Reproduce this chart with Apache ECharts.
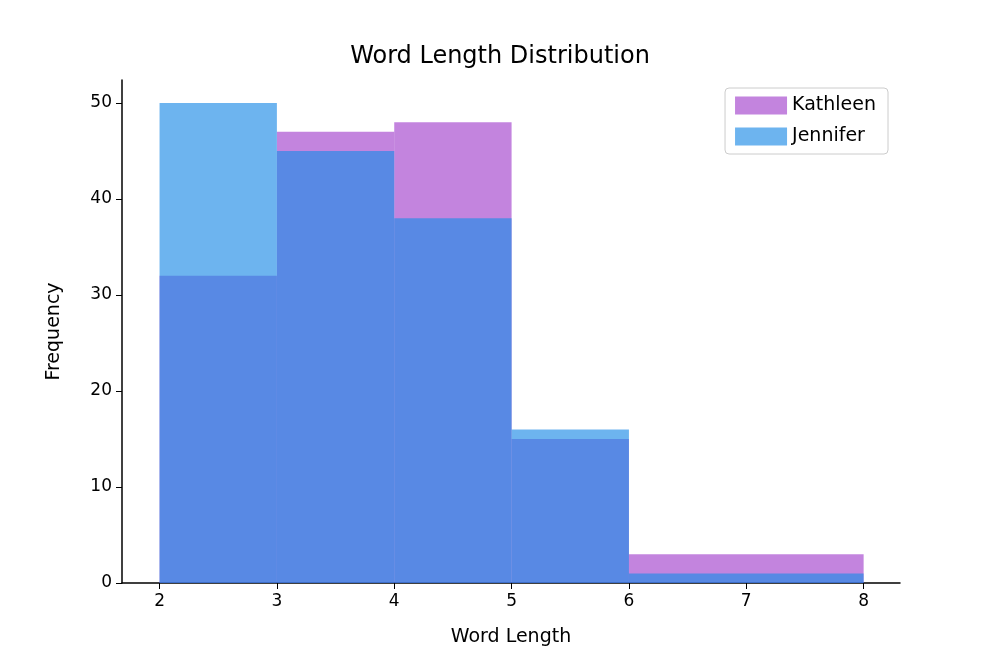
<!DOCTYPE html>
<html><head><meta charset="utf-8">
<script src="https://cdn.jsdelivr.net/npm/echarts@6/dist/echarts.min.js"></script>
<style>html,body{margin:0;padding:0;background:#fff}#c{width:1000px;height:667px}</style>
</head><body><div id="c"></div>
<script>
const binEdges = [2, 3, 4, 5, 6, 8];
const kathleen = [32, 47, 48, 15, 3];
const jennifer = [50, 45, 38, 16, 1];
const xTicks = [2, 3, 4, 5, 6, 7, 8];
const yTicks = [0, 10, 20, 30, 40, 50];

function mk(vals){ return vals.map((v,i)=>[binEdges[i], binEdges[i+1], v]); }
function render(params, api){
  const p0 = api.coord([api.value(0), 0]);
  const p1 = api.coord([api.value(1), api.value(2)]);
  return {type:'rect', shape:{x:p0[0], y:p1[1], width:p1[0]-p0[0], height:p0[1]-p1[1]},
    style:{fill:api.visual('color')}};
}
const font = 'DejaVu Sans';
const chart = echarts.init(document.getElementById('c'));
chart.setOption({
  animation:false,
  textStyle:{fontFamily:font},
  title:{text:'Word Length Distribution', left:'center', top:40, textStyle:{fontFamily:font, fontSize:24, fontWeight:'normal', color:'#000'}},
  legend:{right:112, top:88, orient:'vertical', icon:'rect', itemWidth:52, itemHeight:18, itemGap:12,
    borderColor:'#ccc', borderWidth:1, borderRadius:4, padding:[8,12,8,10],
    textStyle:{fontFamily:font, fontSize:19, color:'#000'}, data:['Kathleen','Jennifer']},
  grid:{left:122, right:100, top:80, bottom:84},
  xAxis:{type:'value', min:1.68, max:8.31, name:'Word Length', nameLocation:'middle', nameGap:45,
    nameTextStyle:{fontFamily:font, fontSize:19, color:'#000'},
    axisLine:{lineStyle:{color:'#000', width:1.5}}, splitLine:{show:false},
    axisTick:{customValues:xTicks, length:6, lineStyle:{color:'#000'}},
    axisLabel:{customValues:xTicks, fontFamily:font, fontSize:17, color:'#000', margin:10}},
  yAxis:{type:'value', min:0, max:52.4, name:'Frequency', nameLocation:'middle', nameGap:58, nameRotate:90,
    nameTextStyle:{fontFamily:font, fontSize:19, color:'#000'},
    axisLine:{show:true, lineStyle:{color:'#000', width:1.5}}, splitLine:{show:false},
    axisTick:{show:true, customValues:yTicks, length:6, lineStyle:{color:'#000'}},
    axisLabel:{customValues:yTicks, fontFamily:font, fontSize:17, color:'#000', margin:10}},
  series:[
    {name:'Kathleen', type:'custom', renderItem:render, itemStyle:{color:'rgba(155,50,200,0.6)'}, encode:{x:[0,1], y:2}, data:mk(kathleen)},
    {name:'Jennifer', type:'custom', renderItem:render, itemStyle:{color:'rgba(30,140,230,0.65)'}, encode:{x:[0,1], y:2}, data:mk(jennifer)}
  ]
});
</script></body></html>
